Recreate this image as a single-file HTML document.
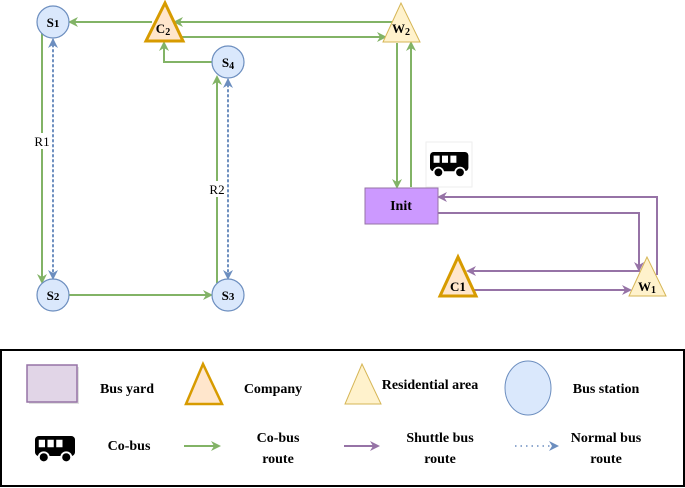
<!DOCTYPE html>
<html><head><meta charset="utf-8"><style>
html,body{margin:0;padding:0;background:#fff;}
svg{display:block;font-family:"Liberation Serif",serif;}
</style></head><body>
<svg width="685" height="488" viewBox="0 0 685 488" xmlns="http://www.w3.org/2000/svg">
<defs>
<marker id="g" markerWidth="10" markerHeight="10" refX="8" refY="5" orient="auto" markerUnits="userSpaceOnUse"><path d="M0,0 L10,5 L0,10 L3,5 z" fill="#82b366"/></marker>
<marker id="p" markerWidth="10" markerHeight="10" refX="8" refY="5" orient="auto" markerUnits="userSpaceOnUse"><path d="M0,0 L10,5 L0,10 L3,5 z" fill="#9673a6"/></marker>
<marker id="b" markerWidth="10" markerHeight="10" refX="8" refY="5" orient="auto-start-reverse" markerUnits="userSpaceOnUse"><path d="M0,0 L10,5 L0,10 L3,5 z" fill="#6c8ebf"/></marker>
<g id="bus"><rect x="0" y="0" width="32" height="16" rx="3" fill="#000"/><rect x="3" y="3" width="5" height="6" fill="#fff"/><rect x="10" y="3" width="5" height="6" fill="#fff"/><rect x="17" y="3" width="5" height="6" fill="#fff"/><circle cx="7" cy="17" r="4" fill="#000" stroke="#fff" stroke-width="1.5"/><circle cx="25" cy="17" r="4" fill="#000" stroke="#fff" stroke-width="1.5"/></g>
</defs>
<g fill="none" stroke="#82b366" stroke-width="2">
<path d="M152,22 L70,22" marker-end="url(#g)"/>
<path d="M392,22 L175,22" marker-end="url(#g)"/>
<path d="M182,37 L385,37" marker-end="url(#g)"/>
<path d="M212,62 L164,62 L164,43" marker-end="url(#g)"/>
<path d="M42,33 L42,282" marker-end="url(#g)"/>
<path d="M69,295 L211,295" marker-end="url(#g)"/>
<path d="M217,283 L217,77" marker-end="url(#g)"/>
<path d="M397,43 L397,187" marker-end="url(#g)"/>
<path d="M411,187 L411,43" marker-end="url(#g)"/>
</g>
<g fill="none" stroke="#6c8ebf" stroke-width="2" stroke-dasharray="1.5,3.5" stroke-linecap="round">
<path d="M53,40 L53,278" marker-start="url(#b)" marker-end="url(#b)"/>
<path d="M228,80 L228,278" marker-start="url(#b)" marker-end="url(#b)"/>
</g>
<g fill="none" stroke="#9673a6" stroke-width="2">
<path d="M657,275 L657,197 L439,197" marker-end="url(#p)"/>
<path d="M438,213 L639,213 L639,270" marker-end="url(#p)"/>
<path d="M640,271 L468,271" marker-end="url(#p)"/>
<path d="M473,290 L630,290" marker-end="url(#p)"/>
</g>
<rect x="34" y="133" width="16" height="16" fill="#fff"/><text x="42" y="146" font-size="13" text-anchor="middle">R1</text>
<rect x="209" y="181" width="16" height="16" fill="#fff"/><text x="217" y="194" font-size="13" text-anchor="middle">R2</text>
<g fill="#dae8fc" stroke="#6c8ebf" stroke-width="1.2">
<circle cx="53" cy="22" r="16"/><circle cx="53" cy="295" r="16"/><circle cx="228" cy="295" r="16"/><circle cx="228" cy="62" r="16"/>
</g>
<g font-size="13" font-weight="bold" text-anchor="middle">
<text x="53" y="27">S<tspan font-size="11">1</tspan></text>
<text x="53" y="300">S<tspan font-size="11">2</tspan></text>
<text x="228" y="300">S<tspan font-size="11">3</tspan></text>
<text x="228" y="67">S<tspan font-size="10" dy="2">4</tspan></text>
</g>
<polygon points="165,3 146,41 183,41" fill="#ffe6cc" stroke="#d79b00" stroke-width="3"/>
<text x="163" y="33" font-size="13" font-weight="bold" text-anchor="middle">C<tspan font-size="10" dy="2">2</tspan></text>
<polygon points="401,3 383,42 420,42" fill="#fff2cc" stroke="#d6b656" stroke-width="1"/>
<text x="401" y="33" font-size="13" font-weight="bold" text-anchor="middle">W<tspan font-size="10" dy="2">2</tspan></text>
<polygon points="458,257 440,296 476,296" fill="#ffe6cc" stroke="#d79b00" stroke-width="3"/>
<text x="458" y="291" font-size="13" font-weight="bold" text-anchor="middle">C1</text>
<polygon points="647,257 629,296 666,296" fill="#fff2cc" stroke="#d6b656" stroke-width="1"/>
<text x="647" y="291" font-size="13" font-weight="bold" text-anchor="middle">W<tspan font-size="10" dy="2">1</tspan></text>
<rect x="365" y="188" width="73" height="36" fill="#cc99ff" stroke="#9673a6" stroke-width="1"/>
<text x="401" y="210" font-size="14" font-weight="bold" text-anchor="middle">Init</text>
<rect x="426" y="142" width="46" height="45" fill="#fff" stroke="#eee"/>
<use href="#bus" transform="translate(430,152) scale(1.2)"/>
<rect x="1" y="350" width="683" height="136" fill="none" stroke="#000" stroke-width="2"/>
<rect x="29" y="367" width="50" height="37" fill="#ccc" opacity="0.6"/>
<rect x="27" y="365" width="50" height="37" fill="#e1d5e7" stroke="#9673a6" stroke-width="1.5"/>
<polygon points="203,364 186,404 222,404" fill="#ffe6cc" stroke="#d79b00" stroke-width="2.5"/>
<polygon points="362,364 345,404 381,404" fill="#fff2cc" stroke="#d6b656" stroke-width="1"/>
<ellipse cx="528" cy="388" rx="23" ry="27" fill="#dae8fc" stroke="#6c8ebf"/>
<g font-size="14" font-weight="bold" text-anchor="middle">
<text x="127" y="393">Bus yard</text>
<text x="273" y="393">Company</text>
<text x="430" y="389">Residential area</text>
<text x="606" y="393">Bus station</text>
<text x="129" y="450">Co-bus</text>
<text x="278" y="442">Co-bus</text><text x="278" y="463">route</text>
<text x="440" y="442">Shuttle bus</text><text x="440" y="463">route</text>
<text x="606" y="442">Normal bus</text><text x="606" y="463">route</text>
</g>
<use href="#bus" transform="translate(35,436) scale(1.25)"/>
<path d="M184,446 L219,446" stroke="#82b366" stroke-width="2" marker-end="url(#g)"/>
<path d="M344,446 L378,446" stroke="#9673a6" stroke-width="2" marker-end="url(#p)"/>
<path d="M515,446 L557,446" stroke="#6c8ebf" stroke-width="1.5" stroke-dasharray="1.5,4" marker-end="url(#b)"/>
</svg>
</body></html>
